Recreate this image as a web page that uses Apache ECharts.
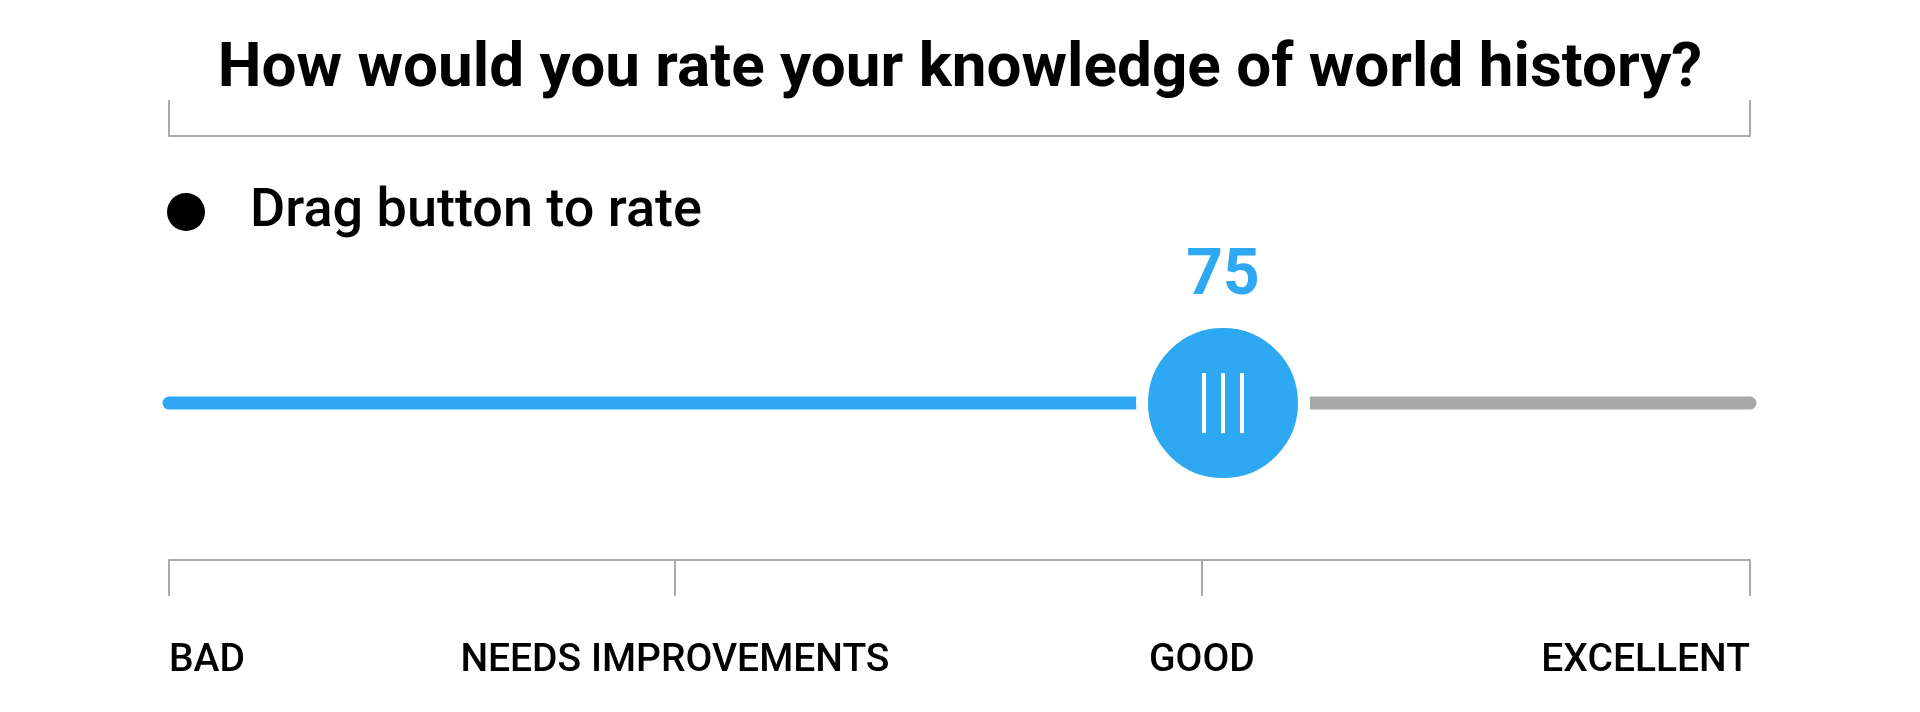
<!DOCTYPE html>
<html>
<head>
<meta charset="utf-8">
<script src="https://cdn.jsdelivr.net/npm/echarts@6/dist/echarts.min.js"></script>
<style>
  html, body { margin: 0; padding: 0; background: #fff; }
  #main { width: 1920px; height: 712px; }
</style>
</head>
<body>
<div id="main"></div>
<script>
var titleText = 'How would you rate your knowledge of world history?';
var legendName = 'Drag button to rate';
var ratingValue = 75;
var scaleMax = 112.5;
var tickValues = [0, 36, 73.5, 112.5];
var tickLabels = ['BAD', 'NEEDS IMPROVEMENTS', 'GOOD', 'EXCELLENT'];
var trackY = 0.37;

var chartDom = document.getElementById('main');
var myChart = echarts.init(chartDom);
var font = 'Roboto';

var labelFor = {};
tickValues.forEach(function (v, i) { labelFor[v] = tickLabels[i]; });

var option = {
    animation: false,
    title: {
        text: titleText,
        left: 'center',
        top: 34,
        textStyle: { fontFamily: font, fontSize: 62, fontWeight: 'bold', color: '#000' }
    },
    legend: {
        left: 162,
        top: 180,
        itemWidth: 38,
        itemHeight: 38,
        data: [{ name: legendName, icon: 'circle', itemStyle: { color: '#000' } }],
        textStyle: { fontFamily: font, fontSize: 54, fontWeight: 500, color: '#000', padding: [0, 0, 0, 40] },
        selectedMode: false
    },
    grid: { left: 169, right: 170, top: 136, bottom: 152 },
    xAxis: [
        {
            type: 'value', position: 'bottom', min: 0, max: scaleMax,
            axisLine: { show: true, lineStyle: { color: '#aaa', width: 2 } },
            axisTick: { show: true, length: 36, customValues: tickValues, lineStyle: { color: '#aaa', width: 2 } },
            axisLabel: {
                customValues: tickValues,
                margin: 82,
                fontFamily: font, fontSize: 39, fontWeight: 500, color: '#000',
                alignMinLabel: 'left', alignMaxLabel: 'right',
                formatter: function (v) { return labelFor[v] || ''; }
            },
            splitLine: { show: false }
        },
        {
            type: 'value', position: 'top', min: 0, max: scaleMax,
            axisLine: { show: true, lineStyle: { color: '#aaa', width: 2 } },
            axisTick: { show: true, length: 36, customValues: [0, scaleMax], lineStyle: { color: '#aaa', width: 2 } },
            axisLabel: { show: false },
            splitLine: { show: false }
        }
    ],
    yAxis: { type: 'value', min: 0, max: 1, show: false },
    series: [
        {
            name: legendName,
            type: 'line',
            data: [[0, trackY], [ratingValue, trackY]],
            symbol: 'none',
            lineStyle: { color: '#2ea8f2', width: 13, cap: 'round' },
            itemStyle: { color: '#000' },
            z: 2
        },
        {
            type: 'line',
            data: [[ratingValue, trackY], [scaleMax, trackY]],
            symbol: 'none',
            lineStyle: { color: '#a8a8a8', width: 13, cap: 'round' },
            z: 1
        },
        {
            type: 'scatter',
            data: [[ratingValue, trackY]],
            symbol: 'circle',
            symbolSize: 162,
            itemStyle: { color: '#2ea8f2', borderColor: '#fff', borderWidth: 12, opacity: 1 },
            label: {
                show: true, position: 'top', distance: 6,
                formatter: String(ratingValue),
                fontFamily: font, fontSize: 64, fontWeight: 'bold', color: '#2ea8f2'
            },
            emphasis: { disabled: true },
            z: 5
        },
        {
            type: 'scatter',
            data: [[ratingValue, trackY]],
            symbol: 'rect',
            symbolSize: [4, 60],
            symbolOffset: [-19, 0],
            itemStyle: { color: '#fff', opacity: 1 },
            z: 6
        },
        {
            type: 'scatter',
            data: [[ratingValue, trackY]],
            symbol: 'rect',
            symbolSize: [4, 60],
            itemStyle: { color: '#fff', opacity: 1 },
            z: 6
        },
        {
            type: 'scatter',
            data: [[ratingValue, trackY]],
            symbol: 'rect',
            symbolSize: [4, 60],
            symbolOffset: [19, 0],
            itemStyle: { color: '#fff', opacity: 1 },
            z: 6
        }
    ]
};

myChart.setOption(option);
</script>
</body>
</html>
